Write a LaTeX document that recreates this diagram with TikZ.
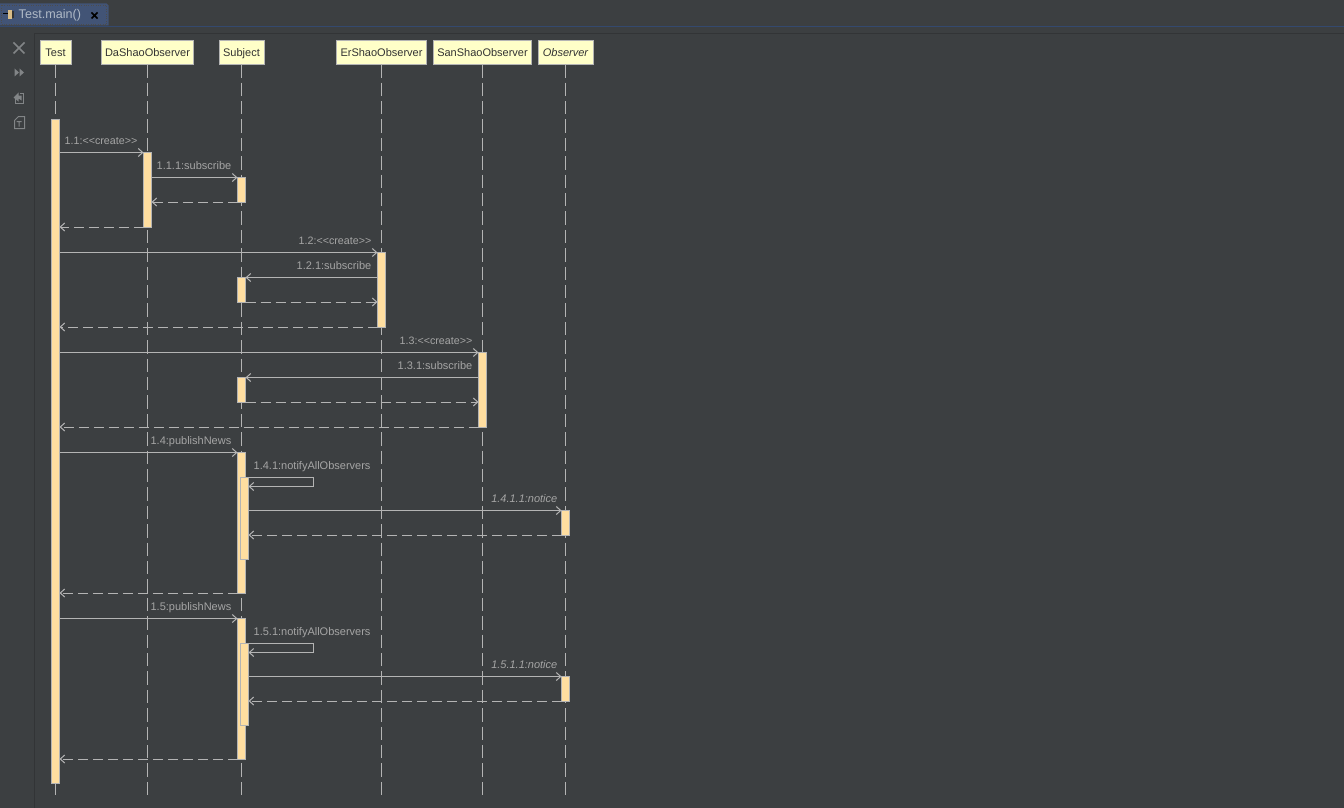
\documentclass[tikz,border=0pt]{standalone}
\usepackage{fontspec}
\setmainfont{Liberation Sans}
\usepackage{tikz}
\usetikzlibrary{arrows.meta,calc,positioning}
\definecolor{PanelGray}{RGB}{60,63,65}
\definecolor{EdgeGray}{RGB}{50,52,54}
\definecolor{LineGray}{RGB}{180,180,180}
\definecolor{LabelGray}{RGB}{165,165,165}
\definecolor{IconGray}{RGB}{130,133,135}
\definecolor{TabBlue}{RGB}{66,84,118}
\definecolor{TitleGray}{RGB}{175,185,198}
\definecolor{RuleBlue}{RGB}{52,73,110}
\definecolor{HeadYellow}{RGB}{255,255,200}
\definecolor{BarOrange}{RGB}{255,222,160}
\tikzset{
  headbox/.style={draw=LineGray,fill=HeadYellow,text=black!80,font=\fontsize{11}{11}\selectfont,
    minimum height=24.5pt,inner sep=0pt,outer sep=0pt,text height=9.5pt,text depth=0pt},
  lifeline/.style={LineGray,line width=1pt,dash pattern=on 13.4pt off 5pt},
  barbox/.style={draw=LineGray,fill=BarOrange,line width=1pt,minimum width=8pt,inner sep=0pt,outer sep=0pt,anchor=north},
  msg/.style={->,LineGray,line width=1pt},
  reply/.style={msg,dash pattern=on 10pt off 5pt},
  msglabel/.style={text=LabelGray,font=\fontsize{11}{11}\selectfont,inner sep=0pt,text height=8pt,text depth=0pt},
  icon/.style={IconGray,line width=1pt}
}
\begin{document}
\begin{tikzpicture}[x=1pt,y=-1pt,>={Straight Barb[length=4.5pt,width=8pt]}]
        \useasboundingbox (-0.5,-0.5) rectangle (1343.5,807.5);
        \fill[PanelGray] (-0.5,-0.5) rectangle (1343.5,807.5);
        % tab strip
        \fill[TabBlue] (-0.5,3) -- (106,3) -- (108,5) -- (108,25) -- (-0.5,25) -- cycle;
        \draw[black!70,dotted] (1,5) rectangle (106,24);
        \draw[RuleBlue,line width=1.5pt] (-0.5,26) -- (1343.5,26);
        \draw[EdgeGray] (34,33) -- (1343.5,33);
        \draw[EdgeGray] (34,33) -- (34,807.5);
        \node[text=TitleGray,font=\fontsize{12.6}{13}\selectfont,inner sep=0pt,anchor=west] (tabtitle) at (18,15) {Test.main()};
        \draw[black,line width=1pt] (3,13) -- (8,13);
        \fill[BarOrange!85!black] (8,10) rectangle (11,19);
        \fill[black!80] (11,11) rectangle (13,18);
        \draw[black,line width=1.6pt] (91,12) -- (97,18) (97,12) -- (91,18);
        % side icons
        \draw[icon,line width=1.6pt] (13,42) -- (24,53) (24,42) -- (13,53);
        \fill[IconGray] (14,68) -- (18.5,72) -- (14,76) -- cycle (19,68) -- (23.5,72) -- (19,76) -- cycle;
        \draw[icon] (15,98) -- (15,103) -- (23,103) -- (23,93) -- (19,93);
        \fill[IconGray] (13,97) -- (18,92) -- (18,95) -- (21,95) -- (21,100) -- (18,98) -- (18,101) -- cycle;
        \draw[icon] (14,120) -- (18,116) -- (24,116) -- (24,128) -- (14,128) -- cycle (16,121) -- (21,121) (18.5,121) -- (18.5,126);
        % lifeline heads
        \coordinate (bottom) at (0,797);
        \node[headbox,minimum width=31pt] (test) at (55,51.5) {Test};
        \node[headbox,minimum width=92pt] (dashao) at (147,51.5) {DaShaoObserver};
        \node[headbox,minimum width=45pt] (subject) at (241,51.5) {Subject};
        \node[headbox,minimum width=90pt] (ershao) at (381,51.5) {ErShaoObserver};
        \node[headbox,minimum width=98pt] (sanshao) at (482,51.5) {SanShaoObserver};
        \node[headbox,minimum width=55pt,font=\fontsize{11}{11}\selectfont\itshape] (observer) at (565,51.5) {Observer};
        \foreach \n in {test,dashao,subject,ershao,sanshao,observer}
          \draw[lifeline] (\n.south) -- (\n.south |- bottom);
        % activation bars
        \node[barbox,minimum height=664pt] (barTest) at (55,119) {};
        \node[barbox,minimum height=74.5pt] (barDa) at (147,152) {};
        \node[barbox,minimum height=24.5pt] (barSubA) at (241,177) {};
        \node[barbox,minimum height=74.5pt] (barEr) at (381,252) {};
        \node[barbox,minimum height=24.5pt] (barSubB) at (241,277) {};
        \node[barbox,minimum height=74.5pt] (barSan) at (482,352) {};
        \node[barbox,minimum height=24.5pt] (barSubC) at (241,377) {};
        \node[barbox,minimum height=140.5pt] (barSubD) at (241,452) {};
        \node[barbox,minimum height=82pt] (barNestD) at (244,477) {};
        \node[barbox,minimum height=24.5pt] (barObsD) at (565,510) {};
        \node[barbox,minimum height=140.5pt] (barSubE) at (241,618) {};
        \node[barbox,minimum height=82pt] (barNestE) at (244,643) {};
        \node[barbox,minimum height=24.5pt] (barObsE) at (565,676) {};
        % first object
        \draw[msg] (barTest.east |- barDa.north) -- (barDa.north west);
        \draw[msg] (barDa.east |- barSubA.north) -- (barSubA.north west);
        \draw[reply] (barSubA.south west) -- (barDa.east |- barSubA.south);
        \draw[reply] (barDa.south west) -- (barTest.east |- barDa.south);
        % second object
        \draw[msg] (barTest.east |- barEr.north) -- (barEr.north west);
        \draw[msg] (barEr.west |- barSubB.north) -- (barSubB.north east);
        \draw[reply] (barSubB.south east) -- (barEr.west |- barSubB.south);
        \draw[reply] (barEr.south west) -- (barTest.east |- barEr.south);
        % third object
        \draw[msg] (barTest.east |- barSan.north) -- (barSan.north west);
        \draw[msg] (barSan.west |- barSubC.north) -- (barSubC.north east);
        \draw[reply] (barSubC.south east) -- (barSan.west |- barSubC.south);
        \draw[reply] (barSan.south west) -- (barTest.east |- barSan.south);
        % first publish
        \coordinate (selfD) at (313,486);
        \draw[msg] (barTest.east |- barSubD.north) -- (barSubD.north west);
        \draw[msg] (barNestD.north east) -| (selfD) -- (barNestD.east |- selfD);
        \draw[msg] (barNestD.east |- barObsD.north) -- (barObsD.north west);
        \draw[reply] (barObsD.south west) -- (barNestD.east |- barObsD.south);
        \draw[reply] (barSubD.south west) -- (barTest.east |- barSubD.south);
        % second publish
        \coordinate (selfE) at (313,652);
        \draw[msg] (barTest.east |- barSubE.north) -- (barSubE.north west);
        \draw[msg] (barNestE.north east) -| (selfE) -- (barNestE.east |- selfE);
        \draw[msg] (barNestE.east |- barObsE.north) -- (barObsE.north west);
        \draw[reply] (barObsE.south west) -- (barNestE.east |- barObsE.south);
        \draw[reply] (barSubE.south west) -- (barTest.east |- barSubE.south);
        % labels
        \node[msglabel,anchor=west,font=\fontsize{10.7}{11}\selectfont] (lblA) at (64,140) {1.1:<{}<create>{}>};
        \node[msglabel,anchor=west] (lblAa) at (156,165) {1.1.1:subscribe};
        \node[msglabel,anchor=east,font=\fontsize{10.7}{11}\selectfont] (lblB) at (371,240) {1.2:<{}<create>{}>};
        \node[msglabel,anchor=east] (lblBa) at (371,265) {1.2.1:subscribe};
        \node[msglabel,anchor=east,font=\fontsize{10.7}{11}\selectfont] (lblC) at (472,340) {1.3:<{}<create>{}>};
        \node[msglabel,anchor=east] (lblCa) at (472,365) {1.3.1:subscribe};
        \node[msglabel,anchor=east] (lblD) at (231,440) {1.4:publishNews};
        \node[msglabel,anchor=west] (lblDa) at (253,465) {1.4.1:notifyAllObservers};
        \node[msglabel,anchor=east,font=\fontsize{11}{11}\selectfont\itshape] (lblDb) at (557,498) {1.4.1.1:notice};
        \node[msglabel,anchor=east] (lblE) at (231,606) {1.5:publishNews};
        \node[msglabel,anchor=west] (lblEa) at (253,631) {1.5.1:notifyAllObservers};
        \node[msglabel,anchor=east,font=\fontsize{11}{11}\selectfont\itshape] (lblEb) at (557,664) {1.5.1.1:notice};
      \end{tikzpicture}
\end{document}
